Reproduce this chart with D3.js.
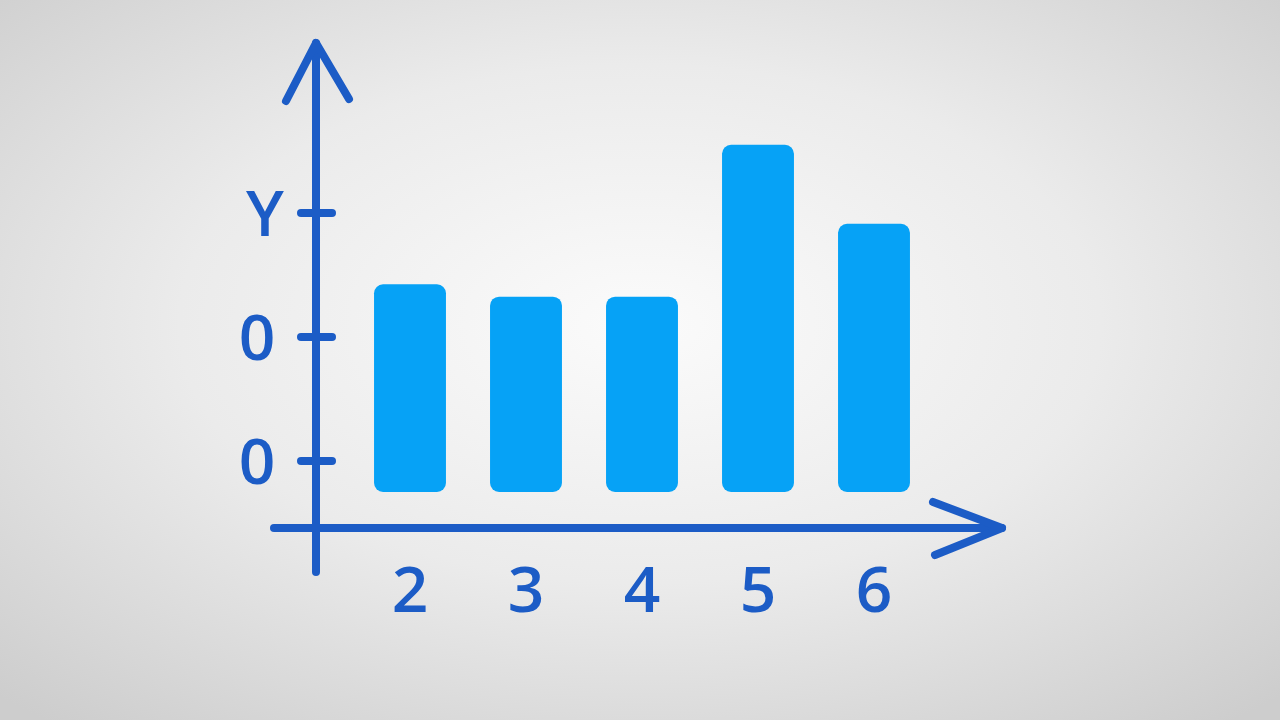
<!DOCTYPE html>
<html>
<head>
<meta charset="utf-8">
<script src="https://cdn.jsdelivr.net/npm/d3@7"></script>
<style>
  html, body { margin: 0; padding: 0; overflow: hidden; }
  svg { display: block; }
  .label { font-family: "Open Sans", "Noto Sans", sans-serif; font-weight: 600; fill: #1c5cc6; }
</style>
</head>
<body>
<svg id="chart" width="1280" height="720"></svg>
<script>
// chart values
const categories = ["2", "3", "4", "5", "6"]
const values = [6.7, 6.3, 6.3, 11.2, 8.65]
const yTickValues = [1, 5, 9]
const yTickLabels = ["0", "0", "Y"]

const axisColor = "#1c5cc6"
const barColor = "#06a2f6"

const svg = d3.select("#chart")

// soft radial background
const defs = svg.append("defs")
const grad = defs.append("radialGradient")
  .attr("id", "bg")
  .attr("cx", "50%").attr("cy", "45%").attr("r", "72%")
grad.append("stop").attr("offset", "0%").attr("stop-color", "#fbfbfb")
grad.append("stop").attr("offset", "50%").attr("stop-color", "#ebebeb")
grad.append("stop").attr("offset", "100%").attr("stop-color", "#cdcdcd")

svg.append("rect")
  .attr("width", 1280).attr("height", 720)
  .attr("fill", "url(#bg)")

const x = d3.scaleBand()
  .domain(categories)
  .range([352, 932])
  .paddingInner(0.38)
  .paddingOuter(0.19)

const y = d3.scaleLinear()
  .domain([0, 12])
  .range([492, 120])

const originX = 316
const axisY = 528

// bars
svg.append("g")
  .selectAll("rect")
  .data(values)
  .join("rect")
  .attr("x", (d, i) => x(categories[i]))
  .attr("y", d => y(d))
  .attr("width", x.bandwidth())
  .attr("height", d => y(0) - y(d))
  .attr("rx", 9)
  .attr("fill", barColor)

const axes = svg.append("g")
  .attr("stroke", axisColor)
  .attr("stroke-width", 8)
  .attr("stroke-linecap", "round")
  .attr("stroke-linejoin", "round")
  .attr("fill", "none")

// y axis with arrow
axes.append("line")
  .attr("x1", originX).attr("y1", 572)
  .attr("x2", originX).attr("y2", 43)
axes.append("polyline")
  .attr("points", [[286, 101], [originX, 43], [349, 99]].join(" "))

// x axis with arrow
axes.append("line")
  .attr("x1", 274).attr("y1", axisY)
  .attr("x2", 1002).attr("y2", axisY)
axes.append("polyline")
  .attr("points", [[933, 502], [1002, axisY], [935, 555]].join(" "))

// y ticks
axes.selectAll(".ytick")
  .data(yTickValues)
  .join("line")
  .attr("class", "ytick")
  .attr("x1", 301).attr("x2", 332)
  .attr("y1", d => y(d)).attr("y2", d => y(d))

svg.append("g")
  .selectAll("text")
  .data(yTickValues)
  .join("text")
  .attr("class", "label")
  .attr("x", (d, i) => yTickLabels[i] == "Y" ? 265 : 257)
  .attr("y", d => y(d))
  .attr("dy", "0.36em")
  .attr("text-anchor", "middle")
  .style("font-size", "64px")
  .text((d, i) => yTickLabels[i])

// x labels
svg.append("g")
  .selectAll("text")
  .data(categories)
  .join("text")
  .attr("class", "label")
  .attr("x", d => x(d) + x.bandwidth() / 2)
  .attr("y", 612)
  .attr("text-anchor", "middle")
  .style("font-size", "64px")
  .text(d => d)
</script>
</body>
</html>
